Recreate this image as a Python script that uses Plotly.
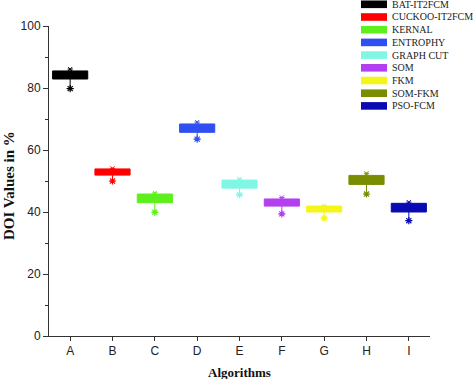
import plotly.graph_objects as go

categories = ["A", "B", "C", "D", "E", "F", "G", "H", "I"]
names = ["BAT-IT2FCM", "CUCKOO-IT2FCM", "KERNAL", "ENTROPHY", "GRAPH CUT",
         "SOM", "FKM", "SOM-FKM", "PSO-FCM"]
colors = ["#000000", "#ff0000", "#5ef01c", "#2f4ff2", "#80f7e4",
          "#b43ff0", "#f5f51a", "#7a8c00", "#0a0ab4"]
q1 = [82.9, 51.9, 43.0, 65.7, 47.7, 41.9, 40.0, 48.9, 40.0]
q3 = [85.5, 53.9, 45.8, 68.4, 50.3, 44.2, 41.9, 51.8, 42.8]
lower = [79.8, 50.0, 39.9, 63.5, 45.6, 39.4, 38.0, 45.8, 37.2]
upper = [86.1, 54.1, 46.2, 69.0, 50.7, 44.7, 42.1, 52.5, 43.2]

W, H = 474, 379
PL, PR, PT, PB = 49, 430, 26, 336          # plot area in page pixels
PW, PH = PR - PL, PB - PT

fig = go.Figure()
for i, c in enumerate(categories):
    med = (q1[i] + q3[i]) / 2
    fig.add_trace(go.Box(
        x=[c], q1=[q1[i]], q3=[q3[i]], median=[med],
        lowerfence=[lower[i]], upperfence=[upper[i]],
        name=names[i], fillcolor=colors[i],
        line=dict(color=colors[i], width=1),
        width=0.83, whiskerwidth=0.15, showlegend=False,
    ))
    fig.add_trace(go.Scatter(
        x=[c], y=[lower[i]], mode="markers", showlegend=False,
        marker=dict(symbol="asterisk-open", size=6, color=colors[i],
                    line=dict(color=colors[i], width=1.2)),
    ))
    fig.add_trace(go.Scatter(
        x=[c], y=[upper[i]], mode="markers", showlegend=False,
        marker=dict(symbol="x-thin-open", size=4, color=colors[i],
                    line=dict(color=colors[i], width=1)),
    ))

def px_to_paper(x, y):
    return (x - PL) / PW, (PB - y) / PH

shapes, annos = [], []
for i, n in enumerate(names):
    cy = 4.3 + 12.7 * i
    x0, y0 = px_to_paper(361, cy - 3.8)
    x1, y1 = px_to_paper(387, cy + 3.8)
    shapes.append(dict(type="rect", xref="paper", yref="paper",
                       x0=x0, x1=x1, y0=y0, y1=y1,
                       fillcolor=colors[i], line=dict(width=0)))
    tx, ty = px_to_paper(390, cy)
    annos.append(dict(xref="paper", yref="paper", x=tx, y=ty, text=n,
                      showarrow=False, xanchor="left", yanchor="middle",
                      font=dict(family="Liberation Serif", size=10, color="#222")))

# axis titles
tx, ty = px_to_paper(239.5, 372)
annos.append(dict(xref="paper", yref="paper", x=tx, y=ty, text="<b>Algorithms</b>",
                  showarrow=False, xanchor="center", yanchor="middle",
                  font=dict(family="Liberation Serif", size=13, color="#111")))
tx, ty = px_to_paper(9, 186)
annos.append(dict(xref="paper", yref="paper", x=tx, y=ty, text="<b>DOI Values in %</b>",
                  showarrow=False, xanchor="center", yanchor="middle", textangle=-90,
                  font=dict(family="Liberation Serif", size=15, color="#111")))

fig.update_layout(
    width=W, height=H,
    margin=dict(l=PL, r=W - PR, t=PT, b=H - PB, autoexpand=False),
    paper_bgcolor="white", plot_bgcolor="white",
    boxmode="overlay",
    shapes=shapes, annotations=annos,
    showlegend=False,
    xaxis=dict(
        categoryorder="array", categoryarray=categories, automargin=False,
        range=[-0.5, 8.5], showline=True, linecolor="#333", linewidth=1,
        ticks="outside", ticklen=4, tickcolor="#333", showgrid=False,
        zeroline=False,
        tickfont=dict(family="Liberation Sans", size=12, color="#222"),
    ),
    yaxis=dict(
        range=[0, 100], dtick=20, showline=True, linecolor="#333", linewidth=1,
        automargin=False,
        ticks="outside", ticklen=5, tickcolor="#333", showgrid=False,
        zeroline=False,
        minor=dict(dtick=10, ticks="outside", ticklen=3, tickcolor="#333"),
        tickfont=dict(family="Liberation Sans", size=12, color="#222"),
    ),
)

fig.write_html("out.html", config={"displayModeBar": False},
               post_script="document.body.style.margin='0';")
